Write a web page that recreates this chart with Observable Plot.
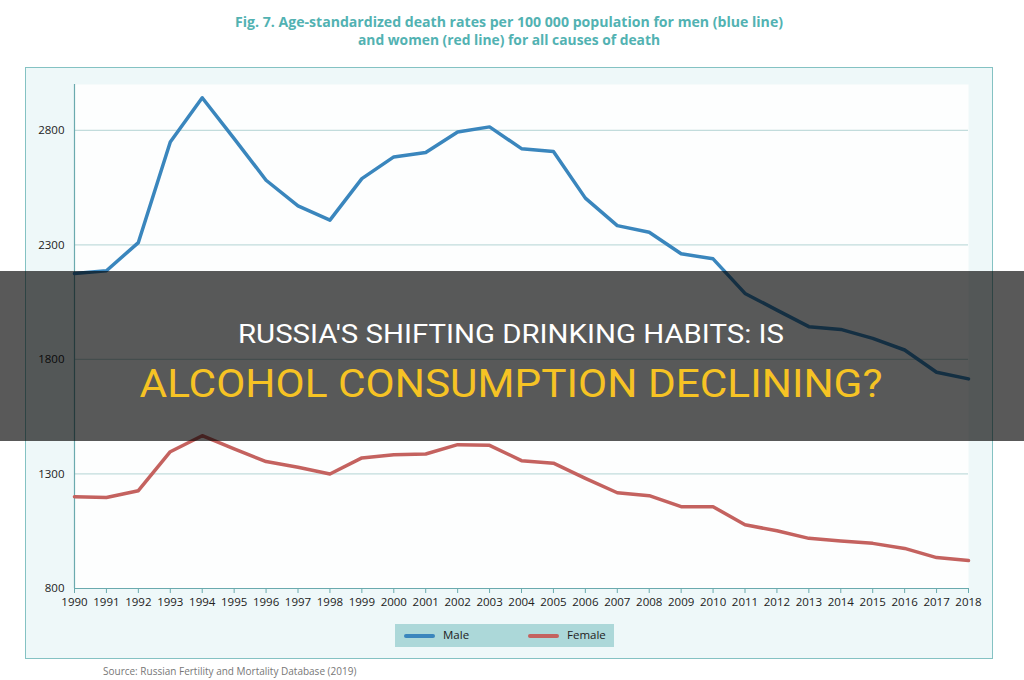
<!DOCTYPE html>
<html>
<head>
<meta charset="utf-8">
<script src="https://cdn.jsdelivr.net/npm/d3@7"></script>
<script src="https://cdn.jsdelivr.net/npm/@observablehq/plot@0.6"></script>
<style>
  html, body { margin: 0; padding: 0; background: #ffffff; }
  #page { position: relative; width: 1024px; height: 680px; overflow: hidden; background: #ffffff; font-family: "Open Sans", "Noto Sans", sans-serif; }
  #frame { position: absolute; left: 25px; top: 67px; width: 966px; height: 590px; background: #eef8f9; border: 1.5px solid #84c2c3; }
  #chart { position: absolute; left: 0; top: 0; }
  #legend { position: absolute; left: 395px; top: 624px; width: 219px; height: 23px; background: #acd8d9; font-size: 11.5px; color: #222; }
  #legend .sw { position: absolute; top: 10px; width: 31px; height: 3.5px; border-radius: 2px; }
  #legend .lb { position: absolute; top: 3px; }
  #banner { position: absolute; left: 0; top: 271px; width: 1024px; height: 170px; background: rgba(0,0,0,0.65); }
  #overlay { position: absolute; left: 0; top: 0; pointer-events: none; }
</style>
</head>
<body>
<div id="page">
  <div id="frame"></div>
  <div id="chart"></div>
  <div id="legend"></div>
  <div id="banner"></div>
  <svg id="overlay" width="1024" height="680"></svg>
</div>
<script>
// ---- data ----
const years = [1990, 1991, 1992, 1993, 1994, 1995, 1996, 1997, 1998, 1999,
               2000, 2001, 2002, 2003, 2004, 2005, 2006, 2007, 2008, 2009,
               2010, 2011, 2012, 2013, 2014, 2015, 2016, 2017, 2018];
const male = [2175, 2187, 2310, 2749, 2942, 2764, 2582, 2470, 2408, 2589,
              2684, 2703, 2793, 2815, 2720, 2708, 2504, 2384, 2355, 2261,
              2239, 2088, 2015, 1943, 1931, 1892, 1841, 1744, 1715];
const female = [1201, 1197, 1227, 1397, 1467, 1409, 1354, 1329, 1300, 1370,
                1384, 1387, 1428, 1425, 1358, 1347, 1281, 1218, 1205, 1157,
                1157, 1078, 1052, 1019, 1007, 997, 975, 935, 922];
const seriesNames = ["Male", "Female"];
const seriesColors = ["#3a86bd", "#c4625f"];
const yTicks = [800, 1300, 1800, 2300, 2800];
const gridValues = [1300, 1800, 2300, 2800];

const titleLines = [
  "Fig. 7. Age-standardized death rates per 100 000 population for men (blue line)",
  "and women (red line) for all causes of death"
];
const headline1 = "RUSSIA'S SHIFTING DRINKING HABITS: IS";
const headline2 = "ALCOHOL CONSUMPTION DECLINING?";
const captionText = "Source: Russian Fertility and Mortality Database (2019)";

// ---- table ----
const data = years.flatMap((yr, i) => [
  {year: yr, value: male[i], sex: seriesNames[0]},
  {year: yr, value: female[i], sex: seriesNames[1]}
]);

const axisColor = "#6aaaae";

const chart = Plot.plot({
  width: 1024,
  height: 620,
  marginLeft: 74,
  marginRight: 56,
  marginTop: 84,
  marginBottom: 32,
  style: {background: "transparent", fontFamily: "'Open Sans', 'Noto Sans', sans-serif", fontSize: "11.5px", color: "#222"},
  x: {domain: [1990, 2018], axis: null, label: null},
  y: {domain: [800, 3000], axis: null, label: null},
  color: {domain: seriesNames, range: seriesColors},
  marks: [
    Plot.frame({fill: "#fdfefe", stroke: null}),
    Plot.ruleY(gridValues, {stroke: "#c2dcdc", strokeWidth: 1.2}),
    Plot.axisY({ticks: yTicks, tickSize: 0, tickPadding: 10, tickFormat: d => String(d), fill: "#222", label: null}),
    Plot.axisX({ticks: years, tickSize: 5, tickPadding: 4, tickFormat: d => String(d), stroke: axisColor, fill: "#222", label: null}),
    Plot.ruleX([1990], {stroke: axisColor, strokeWidth: 1.2}),
    Plot.ruleY([800], {stroke: axisColor, strokeWidth: 1.2}),
    Plot.line(data, {x: "year", y: "value", z: "sex", stroke: "sex", strokeWidth: 3.5, strokeLinejoin: "round", strokeLinecap: "round"})
  ]
});
document.getElementById("chart").appendChild(chart);

// ---- legend ----
const legend = document.getElementById("legend");
const legendPos = [{sw: 9, lb: 48}, {sw: 133, lb: 172}];
seriesNames.forEach((name, i) => {
  const sw = document.createElement("div");
  sw.className = "sw";
  sw.style.left = legendPos[i].sw + "px";
  sw.style.background = seriesColors[i];
  legend.appendChild(sw);
  const lb = document.createElement("div");
  lb.className = "lb";
  lb.style.left = legendPos[i].lb + "px";
  lb.textContent = name;
  legend.appendChild(lb);
});

// ---- overlay texts ----
const svg = d3.select("#overlay");
const t1 = [{text: titleLines[0], y: 27, len: 548}, {text: titleLines[1], y: 45, len: 302}];
t1.forEach(t => {
  svg.append("text")
    .attr("x", 509).attr("y", t.y)
    .attr("text-anchor", "middle")
    .attr("textLength", t.len).attr("lengthAdjust", "spacingAndGlyphs")
    .attr("font-family", "'Open Sans', 'Noto Sans', sans-serif")
    .attr("font-weight", 700).attr("font-size", 15)
    .attr("fill", "#52b2b2")
    .text(t.text);
});

svg.append("text")
  .attr("x", 511).attr("y", 343)
  .attr("text-anchor", "middle")
  .attr("textLength", 546).attr("lengthAdjust", "spacingAndGlyphs")
  .attr("font-family", "Roboto, 'Liberation Sans', sans-serif")
  .attr("font-size", 25.5)
  .attr("fill", "#ffffff")
  .text(headline1);

svg.append("text")
  .attr("x", 511).attr("y", 397)
  .attr("text-anchor", "middle")
  .attr("textLength", 743).attr("lengthAdjust", "spacingAndGlyphs")
  .attr("font-family", "Roboto, 'Liberation Sans', sans-serif")
  .attr("font-size", 38)
  .attr("fill", "#f6c324")
  .text(headline2);

svg.append("text")
  .attr("x", 103).attr("y", 675)
  .attr("font-family", "'Open Sans', 'Noto Sans', sans-serif")
  .attr("font-size", 10)
  .attr("fill", "#777")
  .text(captionText);
</script>
</body>
</html>
